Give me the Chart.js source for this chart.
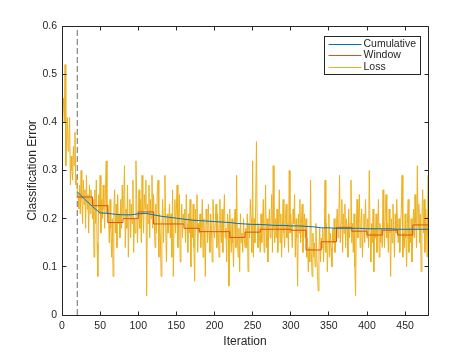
<!DOCTYPE html>
<html>
<head>
<meta charset="utf-8">
<script src="https://cdn.jsdelivr.net/npm/chart.js@4.4.1/dist/chart.umd.min.js"></script>
<style>
  html, body { margin: 0; padding: 0; background: #ffffff; }
  #c { display: block; }
</style>
</head>
<body>
<canvas id="c" width="474" height="355"></canvas>
<script>
// ---------------- DATA ----------------
const xTicks = [0, 50, 100, 150, 200, 250, 300, 350, 400, 450];
const yTicks = [0, 0.1, 0.2, 0.3, 0.4, 0.5, 0.6];
const yTickLabels = ["0", "0.1", "0.2", "0.3", "0.4", "0.5", "0.6"];
const xRange = [0, 480];
const yRange = [0, 0.6];
const seriesNames = ["Cumulative", "Window", "Loss"];
const dashX = 20;

// Loss (classification error) per iteration, iterations 1..480
const lossValues = [
  0.42,0.45,0.40,0.52,0.31,0.36,0.41,0.34,0.37,0.41,0.27,0.33,0.30,0.28,0.35,0.31,0.38,0.27,0.29,0.26,
  0.25,0.22,0.27,0.21,0.30,0.24,0.19,0.28,0.23,0.26,0.18,0.29,0.22,0.25,0.17,0.27,0.21,0.26,0.24,0.20,
  0.24,0.12,0.26,0.19,0.28,0.15,0.08,0.25,0.21,0.29,0.17,0.24,0.20,0.27,0.22,0.18,0.26,0.32,0.21,0.23,
  0.21,0.15,0.24,0.18,0.12,0.20,0.08,0.22,0.26,0.17,0.23,0.14,0.25,0.19,0.21,0.16,0.24,0.18,0.27,0.20,
  0.25,0.31,0.14,0.22,0.18,0.27,0.12,0.21,0.24,0.16,0.23,0.19,0.28,0.13,0.20,0.17,0.32,0.24,0.15,0.21,
  0.26,0.18,0.24,0.15,0.29,0.21,0.17,0.25,0.22,0.28,0.04,0.23,0.19,0.27,0.16,0.24,0.20,0.29,0.18,0.25,
  0.20,0.14,0.23,0.17,0.26,0.28,0.12,0.21,0.16,0.08,0.19,0.24,0.15,0.22,0.29,0.18,0.11,0.21,0.17,0.19,
  0.23,0.16,0.21,0.12,0.26,0.08,0.19,0.24,0.17,0.22,0.27,0.14,0.20,0.25,0.11,0.18,0.23,0.16,0.21,0.19,
  0.22,0.15,0.25,0.19,0.13,0.21,0.17,0.24,0.10,0.20,0.16,0.23,0.14,0.07,0.22,0.18,0.25,0.13,0.19,0.17,
  0.21,0.14,0.18,0.24,0.12,0.20,0.16,0.08,0.22,0.19,0.15,0.23,0.17,0.13,0.21,0.18,0.11,0.24,0.19,0.16,
  0.19,0.23,0.14,0.21,0.17,0.12,0.24,0.18,0.15,0.22,0.13,0.20,0.25,0.16,0.18,0.11,0.21,0.19,0.06,0.22,
  0.17,0.13,0.20,0.15,0.10,0.19,0.22,0.14,0.29,0.16,0.12,0.18,0.09,0.21,0.15,0.17,0.13,0.20,0.16,0.14,
  0.18,0.14,0.21,0.09,0.19,0.16,0.24,0.20,0.13,0.32,0.12,0.20,0.15,0.23,0.36,0.18,0.14,0.19,0.16,0.13,
  0.21,0.15,0.19,0.24,0.13,0.18,0.27,0.14,0.20,0.11,0.17,0.22,0.16,0.19,0.25,0.13,0.31,0.18,0.15,0.20,
  0.16,0.22,0.13,0.19,0.26,0.15,0.21,0.12,0.18,0.24,0.17,0.14,0.20,0.23,0.16,0.19,0.13,0.30,0.17,0.21,
  0.18,0.14,0.22,0.19,0.25,0.12,0.20,0.16,0.06,0.21,0.17,0.24,0.15,0.19,0.23,0.13,0.18,0.21,0.16,0.20,
  0.12,0.16,0.09,0.14,0.11,0.28,0.13,0.08,0.17,0.12,0.15,0.10,0.19,0.13,0.09,0.05,0.14,0.18,0.11,0.16,
  0.14,0.18,0.11,0.16,0.28,0.13,0.19,0.09,0.15,0.21,0.12,0.17,0.14,0.10,0.18,0.15,0.20,0.13,0.16,0.19,
  0.22,0.16,0.20,0.29,0.15,0.19,0.24,0.13,0.21,0.17,0.23,0.14,0.20,0.18,0.12,0.22,0.16,0.19,0.28,0.15,
  0.19,0.13,0.21,0.10,0.04,0.18,0.24,0.16,0.20,0.25,0.14,0.19,0.22,0.12,0.17,0.21,0.15,0.24,0.18,0.16,
  0.20,0.14,0.30,0.17,0.11,0.19,0.15,0.22,0.09,0.18,0.16,0.21,0.13,0.17,0.24,0.12,0.19,0.15,0.18,0.14,
  0.26,0.18,0.14,0.21,0.25,0.16,0.19,0.13,0.22,0.17,0.08,0.20,0.15,0.23,0.18,0.12,0.21,0.17,0.24,0.19,
  0.15,0.20,0.13,0.18,0.22,0.29,0.12,0.17,0.14,0.21,0.16,0.10,0.19,0.24,0.13,0.18,0.15,0.20,0.11,0.17,
  0.22,0.16,0.25,0.19,0.14,0.31,0.18,0.23,0.15,0.21,0.09,0.20,0.26,0.17,0.24,0.13,0.22,0.18,0.12,0.29
];

// Cumulative error, read every 10 iterations
const cumIters = [20,30,40,50,60,70,80,90,100,110,120,130,140,150,160,170,180,190,200,210,220,230,240,250,260,270,280,290,300,310,320,330,340,350,360,370,380,390,400,410,420,430,440,450,460,470,480];
const cumValues = [0.256,0.240,0.225,0.212,0.211,0.209,0.208,0.208,0.210,0.211,0.208,0.205,0.203,0.201,0.199,0.197,0.196,0.195,0.194,0.193,0.192,0.190,0.189,0.188,0.188,0.187,0.186,0.186,0.185,0.185,0.184,0.183,0.181,0.181,0.180,0.180,0.180,0.180,0.179,0.179,0.179,0.179,0.178,0.178,0.178,0.178,0.178];

// Window error (step), value holds from each start to the next
const windowStarts = [20,40,60,80,100,120,140,160,180,200,220,240,260,280,300,320,340,360,380,400,420,440,460,480];
const windowValues = [0.245,0.227,0.192,0.200,0.214,0.189,0.189,0.180,0.173,0.173,0.161,0.172,0.178,0.178,0.176,0.135,0.152,0.182,0.174,0.166,0.176,0.166,0.187,0.187];

// ---------------- STYLE ----------------
const C_BLUE = '#0072BD', C_ORANGE = '#D95319', C_YELLOW = '#EDB120';
const AXIS = '#262626';
const FONT = 'Arial, "Liberation Sans", Helvetica, sans-serif';

const lossPts = lossValues.map((v, i) => ({ x: i + 1, y: v }));
const cumPts = cumIters.map((x, i) => ({ x, y: cumValues[i] }));
const winPts = windowStarts.map((x, i) => ({ x, y: windowValues[i] }));
const dashPts = [{ x: dashX, y: yRange[0] }, { x: dashX, y: yRange[1] }];

const boxPlugin = {
  id: 'matlabBox',
  afterDatasetsDraw(chart) {
    const { ctx, chartArea: a, scales: { x, y } } = chart;
    const L = Math.floor(a.left) + 0.5, R = Math.floor(a.right) + 0.5;
    const T = Math.floor(a.top) + 0.5, B = Math.floor(a.bottom) + 0.5;
    ctx.save();
    ctx.strokeStyle = AXIS;
    ctx.lineWidth = 1;
    ctx.beginPath();
    ctx.rect(L, T, R - L, B - T);
    const tl = 4;
    xTicks.forEach(v => {
      const p = Math.floor(x.getPixelForValue(v)) + 0.5;
      ctx.moveTo(p, B); ctx.lineTo(p, B - tl);
      ctx.moveTo(p, T); ctx.lineTo(p, T + tl);
    });
    yTicks.forEach(v => {
      const p = Math.floor(y.getPixelForValue(v)) + 0.5;
      ctx.moveTo(L, p); ctx.lineTo(L + tl, p);
      ctx.moveTo(R, p); ctx.lineTo(R - tl, p);
    });
    ctx.stroke();

    // legend box
    const lx = 324.5, ly = 36.5, lw = 96, lh = 38;
    ctx.fillStyle = '#ffffff';
    ctx.fillRect(lx, ly, lw, lh);
    ctx.strokeStyle = AXIS;
    ctx.strokeRect(lx, ly, lw, lh);
    const colors = [C_BLUE, C_ORANGE, C_YELLOW];
    ctx.font = '10.5px ' + FONT;
    ctx.textBaseline = 'middle';
    ctx.textAlign = 'left';
    seriesNames.forEach((name, i) => {
      const ry = ly + 7 + i * 11.5;
      ctx.strokeStyle = colors[i];
      ctx.beginPath();
      ctx.moveTo(lx + 4, Math.round(ry) + 0.5);
      ctx.lineTo(lx + 37, Math.round(ry) + 0.5);
      ctx.stroke();
      ctx.fillStyle = AXIS;
      ctx.fillText(name, lx + 39, ry + 0.5);
    });
    ctx.restore();
  }
};

new Chart(document.getElementById('c'), {
  type: 'line',
  data: {
    datasets: [
      { label: seriesNames[0], data: cumPts, borderColor: C_BLUE, borderWidth: 1, order: 1 },
      { label: seriesNames[1], data: winPts, borderColor: C_ORANGE, borderWidth: 1, stepped: 'before', order: 2 },
      { label: seriesNames[2], data: lossPts, borderColor: C_YELLOW, borderWidth: 1, order: 3 },
      { label: 'start', data: dashPts, borderColor: '#6b6b6b', borderWidth: 1, borderDash: [6, 3], order: 4 }
    ]
  },
  options: {
    responsive: false,
    devicePixelRatio: 1,
    animation: false,
    parsing: true,
    elements: { point: { radius: 0 }, line: { tension: 0 } },
    layout: { padding: { left: 0, right: 46, top: 26, bottom: 0 } },
    plugins: { legend: { display: false }, tooltip: { enabled: false } },
    scales: {
      x: {
        type: 'linear',
        min: xRange[0], max: xRange[1],
        grid: { display: false, drawTicks: false },
        border: { display: false },
        afterBuildTicks: s => { s.ticks = xTicks.map(v => ({ value: v })); },
        afterFit: s => { s.height = 40; },
        ticks: { color: AXIS, font: { family: FONT, size: 10.5 }, padding: 5, maxRotation: 0, autoSkip: false },
        title: { display: true, text: 'Iteration', color: AXIS, font: { family: FONT, size: 12 }, padding: { top: 0, bottom: 6 } }
      },
      y: {
        type: 'linear',
        min: yRange[0], max: yRange[1],
        grid: { display: false, drawTicks: false },
        border: { display: false },
        afterBuildTicks: s => { s.ticks = yTicks.map(v => ({ value: v })); },
        afterFit: s => { s.width = 62; },
        ticks: { color: AXIS, font: { family: FONT, size: 10.5 }, padding: 5, autoSkip: false,
                 callback: (v, i) => yTickLabels[i] },
        title: { display: true, text: 'Classification Error', color: AXIS, font: { family: FONT, size: 12 }, padding: { top: 25, bottom: 0 } }
      }
    }
  },
  plugins: [boxPlugin]
});
</script>
</body>
</html>
